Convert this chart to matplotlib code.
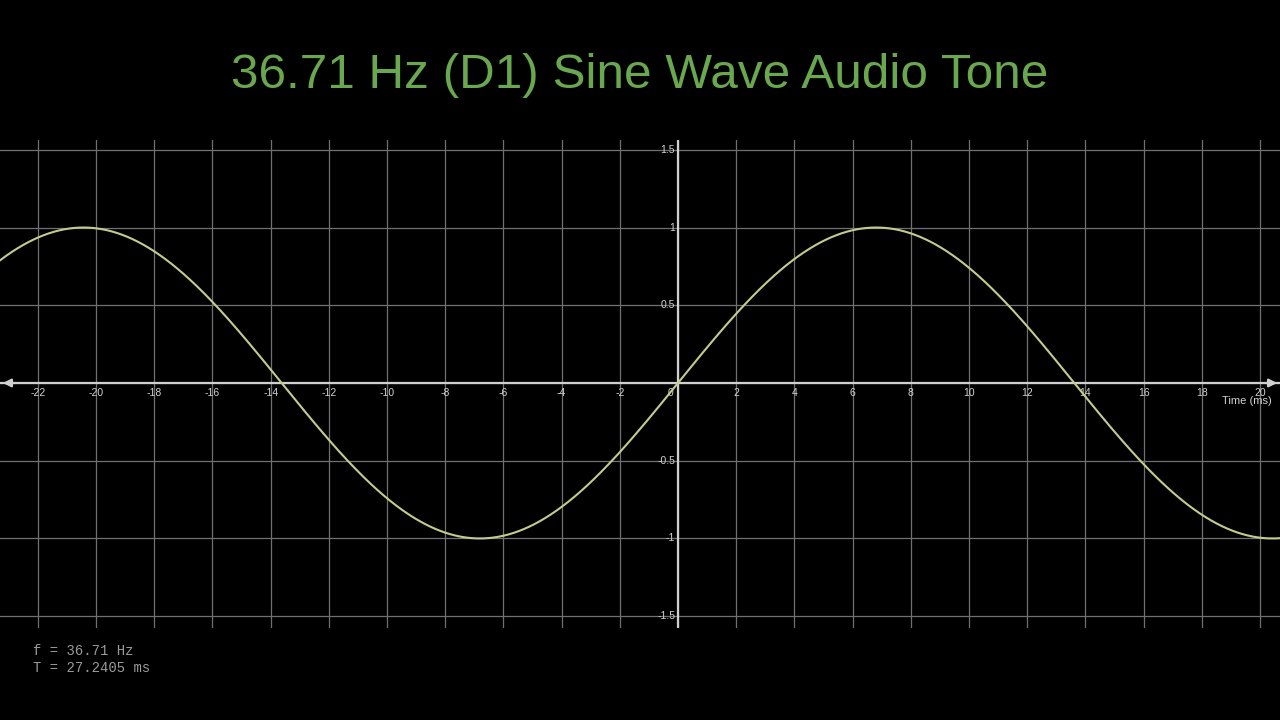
import numpy as np
import matplotlib
matplotlib.use("Agg")
import matplotlib.pyplot as plt

# ---- data ----
title = "36.71 Hz (D1) Sine Wave Audio Tone"
freq_hz = 36.71
period_ms = 27.2405
amplitude = 1.0
x_ticks = [-22, -20, -18, -16, -14, -12, -10, -8, -6, -4, -2, 0, 2, 4, 6, 8, 10, 12, 14, 16, 18, 20]
y_ticks = [-1.5, -1, -0.5, 0, 0.5, 1, 1.5]
x_label = "Time (ms)"
info_lines = ["f = 36.71 Hz", "T = 27.2405 ms"]

xmin, xmax = -23.3, 20.69
ymin, ymax = -1.576, 1.563

fig = plt.figure(figsize=(12.8, 7.2), dpi=100, facecolor="black")
ax = fig.add_axes([0, 92 / 720, 1, 488 / 720])
ax.set_facecolor("black")
ax.set_xlim(xmin, xmax)
ax.set_ylim(ymin, ymax)
for s in ax.spines.values():
    s.set_visible(False)
ax.set_xticks([])
ax.set_yticks([])

grid_c = "#707070"
for xv in x_ticks:
    ax.axvline(xv, color=grid_c, lw=0.9, zorder=1)
for yv in y_ticks:
    ax.axhline(yv, color=grid_c, lw=0.9, zorder=1)

axis_c = "#d0d0d0"
ax.axvline(0, color=axis_c, lw=1.6, zorder=2)
ax.axhline(0, color=axis_c, lw=1.6, zorder=2)
ax.annotate("", xy=(xmax, 0), xytext=(xmax - 0.6, 0),
            arrowprops=dict(arrowstyle="-|>", color=axis_c, lw=1.6, mutation_scale=12), zorder=3)
ax.annotate("", xy=(xmin, 0), xytext=(xmin + 0.6, 0),
            arrowprops=dict(arrowstyle="-|>", color=axis_c, lw=1.6, mutation_scale=12), zorder=3)

lab_c = "#d2d2d2"
lab_font = ["Liberation Sans", "DejaVu Sans"]
for xv in x_ticks:
    if xv == 0:
        ax.text(-0.15, -0.03, "0", color=lab_c, fontsize=7.5, family=lab_font,
                ha="right", va="top", zorder=4)
    else:
        ax.text(xv, -0.03, str(xv), color=lab_c, fontsize=7.5, family=lab_font,
                ha="center", va="top", zorder=4)
for yv in y_ticks:
    if yv == 0:
        continue
    ax.text(-0.1, yv, "%g" % yv, color=lab_c, fontsize=7.5, family=lab_font,
            ha="right", va="center", zorder=4)
ax.text(xmax - 0.3, -0.085, x_label, color=lab_c, fontsize=8, family=lab_font,
        ha="right", va="top", zorder=4)

t = np.linspace(xmin, xmax, 2000)
y = amplitude * np.sin(2 * np.pi * freq_hz * t / 1000.0)
ax.plot(t, y, color="#c3cc8c", lw=1.5, zorder=5)

ttl = fig.text(0.5, 1 - 75 / 720, title, color="#6aa84f", fontsize=40,
               family=["Liberation Sans", "DejaVu Sans"], ha="center", va="center")
fig.canvas.draw()
w = ttl.get_window_extent().width
ttl.set_fontsize(40 * 816.0 / w)

for i, line in enumerate(info_lines):
    fig.text(33 / 1280, 1 - (651 + 17 * i) / 720, line, color="#9a9a9a", fontsize=10,
             family=["Liberation Mono", "DejaVu Sans Mono"], ha="left", va="center")

fig.savefig("out.png", dpi=100, facecolor="black")
